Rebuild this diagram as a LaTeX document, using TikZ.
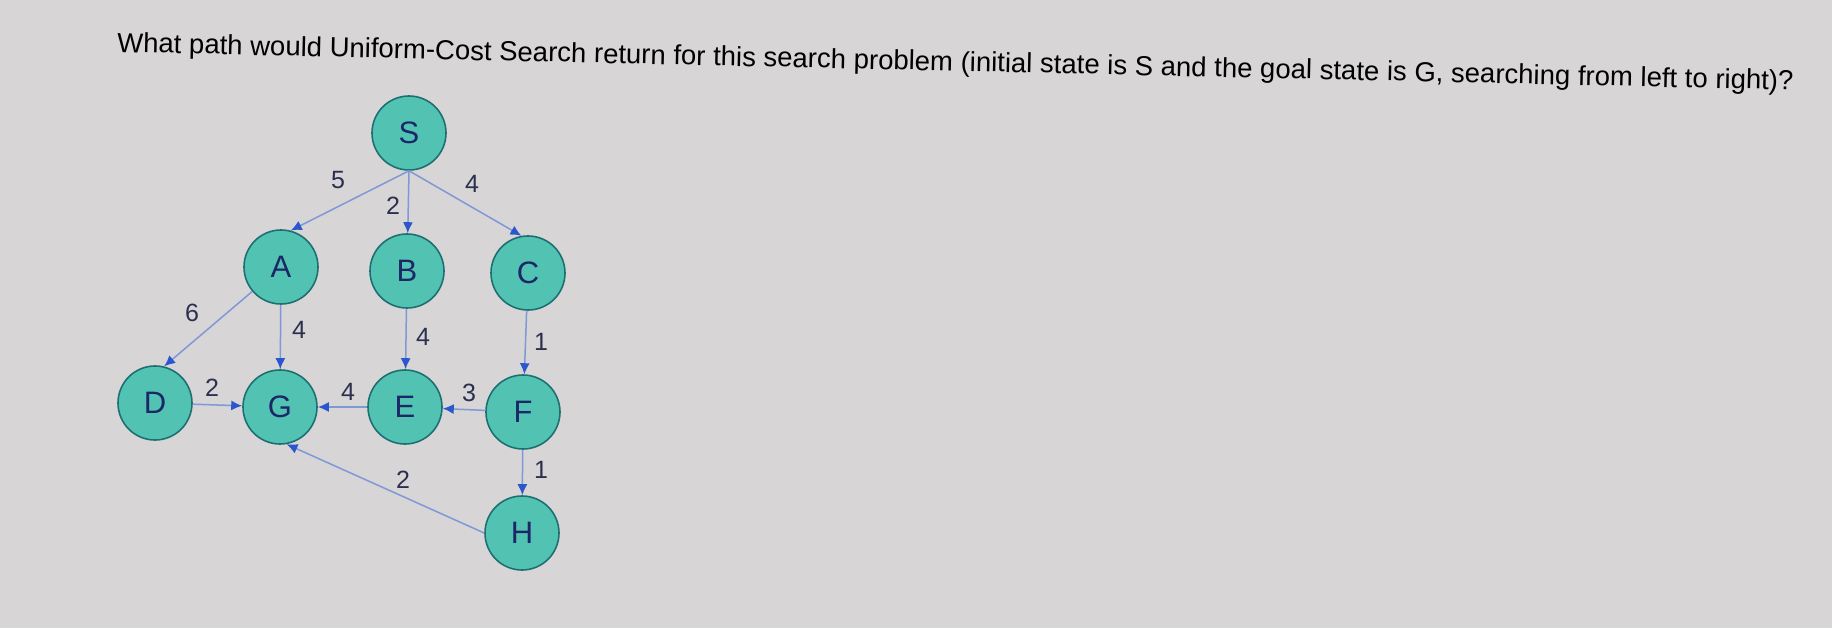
\documentclass[tikz,border=0pt]{standalone}
\usepackage{fontspec}
\setmainfont{Liberation Sans}
\usetikzlibrary{arrows.meta}
\definecolor{bg}{HTML}{D7D5D6}
\definecolor{nodefill}{HTML}{52C3B3}
\definecolor{nodeline}{HTML}{1E6F72}
\definecolor{letter}{HTML}{1B2766}
\definecolor{edgeblue}{HTML}{7F98D6}
\definecolor{tipblue}{HTML}{2C56CC}
\definecolor{wtcol}{HTML}{2C3050}

\begin{document}
\begin{tikzpicture}[x=1pt,y=-1pt,
    state/.style={circle,draw=nodeline,line width=1.6pt,fill=nodefill,
        minimum size=74pt,inner sep=0pt,text=letter,font=\fontsize{31}{31}\selectfont},
    edge/.style={draw=edgeblue,line width=1.5pt,-{Latex[length=11pt,width=10pt,color=tipblue]}},
    wt/.style={text=wtcol,font=\fontsize{25}{25}\selectfont,inner sep=0pt}]
    \fill[bg] (0,0) rectangle (1832,628);
    \useasboundingbox (0,0) rectangle (1832,628);
    % question
    \node[anchor=base west,rotate=-1.3,inner sep=0pt,font=\fontsize{27.5}{27.5}\selectfont] (question) at (117,52)
        {What path would Uniform-Cost Search return for this search problem (initial state is S and the goal state is G, searching from left to right)?};
    % states
    \foreach \name/\x/\y in {S/409/133, A/281/267, B/407/271, C/528/273,
                             D/155/403, G/280/407, E/405/407, F/523/412, H/522/533}
        \node[state] (\name) at (\x,\y) {\name};
    % edges from S
    \draw[edge] (S.south) -- (A.75);
    \draw[edge] (S.south) -- (B);
    \draw[edge] (S.south) -- (C.100);
    \foreach \to/\w/\lx/\ly in {A/5/338/180, B/2/393/206, C/4/472/184}
        \node[wt] (wS\to) at (\lx,\ly) {\w};
    % other edges
    \draw[edge] (A) -- (D.76);
    \draw[edge] (H.west) -- (G.-80);
    \foreach \from/\to in {A/G, B/E, C/F, D/G, E/G, F/E, F/H}
        \draw[edge] (\from) -- (\to);
    \foreach \from/\to/\w/\lx/\ly in {A/D/6/192/313, A/G/4/299/330, B/E/4/423/337,
                                      C/F/1/541/342, D/G/2/212/388, E/G/4/348/392,
                                      F/E/3/469/393, F/H/1/541/470, H/G/2/403/480}
        \node[wt] (w\from\to) at (\lx,\ly) {\w};
\end{tikzpicture}
\end{document}
